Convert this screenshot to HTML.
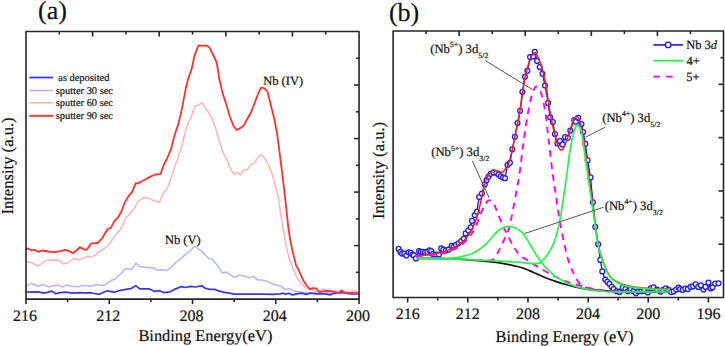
<!DOCTYPE html><html><head><meta charset="utf-8"><style>html,body{margin:0;padding:0;background:#fff;}body{width:725px;height:346px;overflow:hidden;}svg{display:block;}text{font-family:"Liberation Serif",serif;fill:#111;stroke:#111;stroke-width:0.2px;text-rendering:geometricPrecision;}</style></head><body>
<svg width="725" height="346" viewBox="0 0 725 346">
<rect width="725" height="346" fill="#fff"/>
<g fill="none" stroke-linejoin="round" stroke-linecap="round">
<polyline points="26,286.2 31.5,283.3 37.9,286.2 42.5,284.8 48.9,286.8 58.7,285.1 62.7,287.1 66.2,285.1 71.4,286.2 78.3,286.8 84.1,285.3 90,286.2 96.9,284.5 103.9,285.6 112,279.9 114.9,279.3 122.4,272.3 125.8,268.6 131.6,269.5 136,263.3 139.7,266.6 144.3,267.1 149,267.7 153,267.5 157.1,270 161.7,269.8 166.3,270.6 170,268.5 174.3,263.9 178.9,259.9 184.7,255.2 188.2,252.3 195.1,246 198.6,249.5 201.4,250.6 205.5,255.2 209,258.7 212.4,259.3 217.1,265.1 222.8,273.2 226.3,272 230.5,275 234.2,277.2 239.1,275.2 244.1,275.9 249,277.7 253.9,276.4 257.6,280.1 261.3,280.1 266.2,280.8 271.1,283.3 276,285 280.9,286.3 285.7,289.6 289,288.7 292.4,290.4 297,291.5 307.9,293.1 317.8,293.1 327.6,293.1 337.4,293.6 347.2,293.1 357.1,293.1" stroke="#b4b4ff" stroke-width="1.5"/>
<polyline points="26,292 30.9,292.2 37.9,291.8 44.2,293.2 51.7,291.1 55.8,293.7 59.8,292.6 65.6,292.2 72.6,293.2 79.5,292.6 86.4,292.9 90,292.6 94,293.5 99.2,294.3 103,292.5 107.3,290.8 114.3,292.2 120.1,290.3 124.7,289.7 131.6,288.3 135.7,285.6 139.7,288.8 149,288.8 154.7,291.4 159.4,290.6 163.4,292.6 170,291.8 173.4,289.9 180.8,286.7 185.7,287.5 190.6,286.3 194.9,287 201.8,285.8 204.7,288 209.7,289.4 214.6,289.4 219.5,291.2 224.4,292.4 229.3,293.1 234.2,294.1 244.1,294.1 253.9,294.1 263.7,294.1 273.5,294.4 280,293.8 283.4,293.2 285.7,294.3 288.5,293.2 292.4,294.9 297,293.8 301.5,293.2 306,294.3 310.5,293.2 316.2,293.8 325.2,293.8 329.8,294.9 334.3,293.2 338.8,292.6 343.3,292.6 350.1,293.8 358.3,293.8" stroke="#3636ff" stroke-width="1.7"/>
<polyline points="26,261.4 30.9,262.5 38.5,266 45.4,260.5 55.2,259.9 58.7,260.2 63.3,264 68.5,262.5 73.7,258.5 79.5,259.9 87,256.4 91,257.1 95.7,255 99,251.5 102.2,249.8 106,247 109.5,244 115.2,235.3 120.3,229.6 123.9,222.3 126.1,217.3 129,215.1 132.6,210.8 135,207.2 138,201.2 143.8,197.9 148.8,198.3 153.9,200.8 159.7,202.2 163.3,192.5 166.9,189.6 169.8,181.7 173.4,171.6 175,165.8 177.2,160.2 181.4,147.9 184.6,134.4 188.3,122.1 191.2,117 193.5,110 195.2,106.1 198.1,105.4 201.8,102.9 205.5,108 211.6,117.2 215.3,127 219,140.5 223.3,153.6 227,159 230,167.7 233.7,174 236.9,172.5 240.4,174.9 243.6,170 247.2,170 250.9,164.4 254.1,163.1 258.5,156.5 260.7,154.7 264.4,157.9 268.1,164.1 271.8,172.7 275.5,186.2 277.9,195 280.9,215 282.9,227.3 285.8,244.5 289.5,259.2 293.6,270 296.3,276.5 299.2,281.3 302.5,285.2 306,288.1 312.8,290.4 318.5,292.1 323.6,288.7 327.5,290.9 336.6,290.9 343.3,291.5 350.1,292.1 354.7,290.9 358.3,292.1" stroke="#ffb4b4" stroke-width="1.5"/>
<polyline points="26,249.1 28.1,248.4 31.6,250.5 34.3,249.8 38.5,251.9 41.9,250.5 48,251.5 55,252.2 60.4,251.1 65.4,249.8 69,251.1 73,253.3 76.4,250.5 79.9,247.1 84.7,249.8 87.4,249.1 90.9,243.6 96.4,242.9 97.5,243.3 102.2,238.2 105.5,232.5 108,228.8 110.9,227.8 114.5,220.9 118.1,217.3 121.7,210.8 123.9,205 125,201.9 128.6,196.1 132.2,191.8 135.8,183.1 138,183.4 142.3,181 145.2,179.5 150.3,176.6 155.3,174.5 160.4,174.2 164,164.3 166.2,160 167.4,157.7 171.1,149.1 174.8,134.4 178.5,123.6 182.1,107.9 185.8,88.3 188.3,78.4 191.9,68.2 194.4,55.6 196.9,49.4 198.5,45.3 202.4,45.9 205,45.4 208,46.4 209.8,48.2 213.2,55 216.5,62 218,70 219.5,80 222.7,93.4 226.3,104.5 230,117 233.7,126.3 236.9,130 241.1,127.6 244,125.1 247.2,119 250.9,112.8 254.6,103 258.3,93.2 261.2,87.5 264.4,88.3 267.6,91.9 270.6,104.2 274.3,119 276.7,131.3 278.2,142 280.4,159.1 282.9,178.8 284.8,195 287,215 288.3,227.3 290.2,239.6 292.7,251.9 296.1,265.4 298.7,270 301.2,276 303.8,281.3 307,286 310,289.2 312.8,288.1 316.2,288.3 319.6,292.1 325.2,290.9 333.2,291.5 337.7,293.2 341.7,290.4 344.5,292.6 350.1,293.2 358.3,293.2" stroke="#ff3030" stroke-width="1.8"/>
</g>
<g stroke="#262626" stroke-width="1.6" fill="none" stroke-linejoin="round">
<rect x="26" y="31.55" width="333.05" height="267.55"/>
<line x1="26" y1="299.1" x2="26" y2="304.1"/>
<line x1="109.26" y1="299.1" x2="109.26" y2="304.1"/>
<line x1="192.53" y1="299.1" x2="192.53" y2="304.1"/>
<line x1="275.79" y1="299.1" x2="275.79" y2="304.1"/>
<line x1="359.05" y1="299.1" x2="359.05" y2="304.1"/>
<line x1="67.63" y1="299.1" x2="67.63" y2="302.1"/>
<line x1="150.89" y1="299.1" x2="150.89" y2="302.1"/>
<line x1="234.16" y1="299.1" x2="234.16" y2="302.1"/>
<line x1="317.42" y1="299.1" x2="317.42" y2="302.1"/>
<line x1="59.3" y1="31.55" x2="59.3" y2="34.55"/>
<line x1="92.61" y1="31.55" x2="92.61" y2="36.55"/>
<line x1="125.91" y1="31.55" x2="125.91" y2="34.55"/>
<line x1="159.22" y1="31.55" x2="159.22" y2="36.55"/>
<line x1="192.53" y1="31.55" x2="192.53" y2="34.55"/>
<line x1="225.83" y1="31.55" x2="225.83" y2="36.55"/>
<line x1="259.13" y1="31.55" x2="259.13" y2="34.55"/>
<line x1="292.44" y1="31.55" x2="292.44" y2="36.55"/>
<line x1="325.75" y1="31.55" x2="325.75" y2="34.55"/>
<line x1="359.05" y1="58.31" x2="356.05" y2="58.31"/>
<line x1="359.05" y1="85.06" x2="354.05" y2="85.06"/>
<line x1="359.05" y1="111.82" x2="356.05" y2="111.82"/>
<line x1="359.05" y1="138.57" x2="354.05" y2="138.57"/>
<line x1="359.05" y1="165.33" x2="356.05" y2="165.33"/>
<line x1="359.05" y1="192.08" x2="354.05" y2="192.08"/>
<line x1="359.05" y1="218.84" x2="356.05" y2="218.84"/>
<line x1="359.05" y1="245.59" x2="354.05" y2="245.59"/>
<line x1="359.05" y1="272.35" x2="356.05" y2="272.35"/>
</g>
<line x1="29.3" y1="77.5" x2="53.2" y2="77.5" stroke="#3636ff" stroke-width="1.8"/>
<text x="58.3" y="80.9" font-size="10.4">as deposited</text>
<line x1="29.3" y1="90.5" x2="53.2" y2="90.5" stroke="#b4b4ff" stroke-width="1.6"/>
<text x="55.8" y="93.9" font-size="10.4">sputter 30 sec</text>
<line x1="29.3" y1="102.8" x2="53.2" y2="102.8" stroke="#ffb4b4" stroke-width="1.6"/>
<text x="55.8" y="106.2" font-size="10.4">sputter 60 sec</text>
<line x1="29.3" y1="115.8" x2="53.2" y2="115.8" stroke="#ff3030" stroke-width="1.9"/>
<text x="55.8" y="119.2" font-size="10.4">sputter 90 sec</text>
<text x="38" y="18.8" font-size="26">(a)</text>
<text x="263.2" y="84.6" font-size="12.5">Nb (IV)</text>
<text x="164.9" y="243.7" font-size="12.5">Nb (V)</text>
<text x="25" y="320.7" font-size="16" text-anchor="middle">216</text>
<text x="108.26" y="320.7" font-size="16" text-anchor="middle">212</text>
<text x="191.53" y="320.7" font-size="16" text-anchor="middle">208</text>
<text x="274.79" y="320.7" font-size="16" text-anchor="middle">204</text>
<text x="358.05" y="320.7" font-size="16" text-anchor="middle">200</text>
<text x="138.4" y="341" font-size="16.4">Binding Energy(eV)</text>
<text transform="translate(13.2,166) rotate(-90)" font-size="16.6" text-anchor="middle">Intensity (a.u.)</text>
<g fill="none" stroke-linejoin="round" stroke-linecap="butt">
<polyline points="398.6,248.9 400.4,251.9 402.1,253.6 404.3,253.6 406.4,255.4 408.6,252.3 410.8,252.8 412.5,254.5 413.8,255.4 416,258.4 419,251 420.8,251.9 422.9,251.9 425.1,252.3 427.3,251.9 429.4,250.2 431.2,251 432.9,254.1 435.5,254.5 439,254.5 441.2,248.4 443.4,249.5 446,250.3 448.6,249.6 451.6,245.9 453.6,246.8 456,244.8 458.6,243.2 461.2,241 463.8,238.7 465.6,233.4 468.3,230.3 470.7,227.3 472,220.8 474.7,215.1 476.8,211.7 479.2,197 481.9,193.6 484.8,184.4 486.5,180.3 488.4,176.7 490.6,173.8 493.5,172.4 496.4,173.1 498.5,174.6 500.7,176.3 502.9,177.5 505,178.2 507.5,165 509.9,162.8 512.3,149.3 514.9,136.8 517.5,123 520.1,110.8 522.4,91.7 524.9,76.7 527.4,70.8 530.1,57 533.1,56.5 534.8,51.9 537.1,61 539.7,67 542.5,73.7 545,85.5 548.1,102.9 550.1,117.2 552.9,122 554.9,134 557.4,143.5 560,141 562.5,144.5 565.1,137 567.8,137.8 570.3,130.5 574.2,120 575.8,121.7 578.2,117.7 581.5,124 583.1,132 585.3,143.8 587.6,160.2 590.5,177.4 592.9,202.2 595.3,226.9 598.2,244.2 600.3,259.9 602.3,271.4 605.2,279.6 607.3,281.8 609.5,283.9 611.7,286.8 613.8,289 616.7,291.2 619.6,291.9 622.5,287.8 625.4,289 627.8,291.2 630.4,289.7 633.3,291.2 635.9,293.3 638.4,291.2 641.3,291.2 644.2,290.7 647.8,292.4 650.8,288.4 653.5,287.3 657,289.6 660.4,291.8 663.1,289.8 665.8,288.2 668.5,289.7 671,292.1 673.6,291.4 676.2,289.5 678.5,287.5 680.1,289.1 682.7,289.9 685.3,288.5 687.9,289.1 690.5,286.9 693.1,286.2 695.7,284.3 698.3,286.9 700.9,285.2 703.5,289.5 705.5,286.9 708.5,282.6 710.7,288.5 712.6,287.3 715.2,283.6 718.5,283.3" stroke="#1010ff" stroke-width="1.3"/>
</g>
<g fill="#fff" stroke="#1a1aff" stroke-width="1.25">
<circle cx="398.6" cy="248.9" r="2.45"/>
<circle cx="400.4" cy="251.9" r="2.45"/>
<circle cx="402.1" cy="253.6" r="2.45"/>
<circle cx="404.3" cy="253.6" r="2.45"/>
<circle cx="406.4" cy="255.4" r="2.45"/>
<circle cx="408.6" cy="252.3" r="2.45"/>
<circle cx="410.8" cy="252.8" r="2.45"/>
<circle cx="412.5" cy="254.5" r="2.45"/>
<circle cx="413.8" cy="255.4" r="2.45"/>
<circle cx="416" cy="258.4" r="2.45"/>
<circle cx="419" cy="251" r="2.45"/>
<circle cx="420.8" cy="251.9" r="2.45"/>
<circle cx="422.9" cy="251.9" r="2.45"/>
<circle cx="425.1" cy="252.3" r="2.45"/>
<circle cx="427.3" cy="251.9" r="2.45"/>
<circle cx="429.4" cy="250.2" r="2.45"/>
<circle cx="431.2" cy="251" r="2.45"/>
<circle cx="432.9" cy="254.1" r="2.45"/>
<circle cx="435.5" cy="254.5" r="2.45"/>
<circle cx="439" cy="254.5" r="2.45"/>
<circle cx="441.2" cy="248.4" r="2.45"/>
<circle cx="443.4" cy="249.5" r="2.45"/>
<circle cx="446" cy="250.3" r="2.45"/>
<circle cx="448.6" cy="249.6" r="2.45"/>
<circle cx="451.6" cy="245.9" r="2.45"/>
<circle cx="453.6" cy="246.8" r="2.45"/>
<circle cx="456" cy="244.8" r="2.45"/>
<circle cx="458.6" cy="243.2" r="2.45"/>
<circle cx="461.2" cy="241" r="2.45"/>
<circle cx="463.8" cy="238.7" r="2.45"/>
<circle cx="465.6" cy="233.4" r="2.45"/>
<circle cx="468.3" cy="230.3" r="2.45"/>
<circle cx="470.7" cy="227.3" r="2.45"/>
<circle cx="472" cy="220.8" r="2.45"/>
<circle cx="474.7" cy="215.1" r="2.45"/>
<circle cx="476.8" cy="211.7" r="2.45"/>
<circle cx="479.2" cy="197" r="2.45"/>
<circle cx="481.9" cy="193.6" r="2.45"/>
<circle cx="484.8" cy="184.4" r="2.45"/>
<circle cx="486.5" cy="180.3" r="2.45"/>
<circle cx="488.4" cy="176.7" r="2.45"/>
<circle cx="490.6" cy="173.8" r="2.45"/>
<circle cx="493.5" cy="172.4" r="2.45"/>
<circle cx="496.4" cy="173.1" r="2.45"/>
<circle cx="498.5" cy="174.6" r="2.45"/>
<circle cx="500.7" cy="176.3" r="2.45"/>
<circle cx="502.9" cy="177.5" r="2.45"/>
<circle cx="505" cy="178.2" r="2.45"/>
<circle cx="507.5" cy="165" r="2.45"/>
<circle cx="509.9" cy="162.8" r="2.45"/>
<circle cx="512.3" cy="149.3" r="2.45"/>
<circle cx="514.9" cy="136.8" r="2.45"/>
<circle cx="517.5" cy="123" r="2.45"/>
<circle cx="520.1" cy="110.8" r="2.45"/>
<circle cx="522.4" cy="91.7" r="2.45"/>
<circle cx="524.9" cy="76.7" r="2.45"/>
<circle cx="527.4" cy="70.8" r="2.45"/>
<circle cx="530.1" cy="57" r="2.45"/>
<circle cx="533.1" cy="56.5" r="2.45"/>
<circle cx="534.8" cy="51.9" r="2.45"/>
<circle cx="537.1" cy="61" r="2.45"/>
<circle cx="539.7" cy="67" r="2.45"/>
<circle cx="542.5" cy="73.7" r="2.45"/>
<circle cx="545" cy="85.5" r="2.45"/>
<circle cx="548.1" cy="102.9" r="2.45"/>
<circle cx="550.1" cy="117.2" r="2.45"/>
<circle cx="552.9" cy="122" r="2.45"/>
<circle cx="554.9" cy="134" r="2.45"/>
<circle cx="557.4" cy="143.5" r="2.45"/>
<circle cx="560" cy="141" r="2.45"/>
<circle cx="562.5" cy="144.5" r="2.45"/>
<circle cx="565.1" cy="137" r="2.45"/>
<circle cx="567.8" cy="137.8" r="2.45"/>
<circle cx="570.3" cy="130.5" r="2.45"/>
<circle cx="574.2" cy="120" r="2.45"/>
<circle cx="575.8" cy="121.7" r="2.45"/>
<circle cx="578.2" cy="117.7" r="2.45"/>
<circle cx="581.5" cy="124" r="2.45"/>
<circle cx="583.1" cy="132" r="2.45"/>
<circle cx="585.3" cy="143.8" r="2.45"/>
<circle cx="587.6" cy="160.2" r="2.45"/>
<circle cx="590.5" cy="177.4" r="2.45"/>
<circle cx="592.9" cy="202.2" r="2.45"/>
<circle cx="595.3" cy="226.9" r="2.45"/>
<circle cx="598.2" cy="244.2" r="2.45"/>
<circle cx="600.3" cy="259.9" r="2.45"/>
<circle cx="602.3" cy="271.4" r="2.45"/>
<circle cx="605.2" cy="279.6" r="2.45"/>
<circle cx="607.3" cy="281.8" r="2.45"/>
<circle cx="609.5" cy="283.9" r="2.45"/>
<circle cx="611.7" cy="286.8" r="2.45"/>
<circle cx="613.8" cy="289" r="2.45"/>
<circle cx="616.7" cy="291.2" r="2.45"/>
<circle cx="619.6" cy="291.9" r="2.45"/>
<circle cx="622.5" cy="287.8" r="2.45"/>
<circle cx="625.4" cy="289" r="2.45"/>
<circle cx="627.8" cy="291.2" r="2.45"/>
<circle cx="630.4" cy="289.7" r="2.45"/>
<circle cx="633.3" cy="291.2" r="2.45"/>
<circle cx="635.9" cy="293.3" r="2.45"/>
<circle cx="638.4" cy="291.2" r="2.45"/>
<circle cx="641.3" cy="291.2" r="2.45"/>
<circle cx="644.2" cy="290.7" r="2.45"/>
<circle cx="647.8" cy="292.4" r="2.45"/>
<circle cx="650.8" cy="288.4" r="2.45"/>
<circle cx="653.5" cy="287.3" r="2.45"/>
<circle cx="657" cy="289.6" r="2.45"/>
<circle cx="660.4" cy="291.8" r="2.45"/>
<circle cx="663.1" cy="289.8" r="2.45"/>
<circle cx="665.8" cy="288.2" r="2.45"/>
<circle cx="668.5" cy="289.7" r="2.45"/>
<circle cx="671" cy="292.1" r="2.45"/>
<circle cx="673.6" cy="291.4" r="2.45"/>
<circle cx="676.2" cy="289.5" r="2.45"/>
<circle cx="678.5" cy="287.5" r="2.45"/>
<circle cx="680.1" cy="289.1" r="2.45"/>
<circle cx="682.7" cy="289.9" r="2.45"/>
<circle cx="685.3" cy="288.5" r="2.45"/>
<circle cx="687.9" cy="289.1" r="2.45"/>
<circle cx="690.5" cy="286.9" r="2.45"/>
<circle cx="693.1" cy="286.2" r="2.45"/>
<circle cx="695.7" cy="284.3" r="2.45"/>
<circle cx="698.3" cy="286.9" r="2.45"/>
<circle cx="700.9" cy="285.2" r="2.45"/>
<circle cx="703.5" cy="289.5" r="2.45"/>
<circle cx="705.5" cy="286.9" r="2.45"/>
<circle cx="708.5" cy="282.6" r="2.45"/>
<circle cx="710.7" cy="288.5" r="2.45"/>
<circle cx="712.6" cy="287.3" r="2.45"/>
<circle cx="715.2" cy="283.6" r="2.45"/>
<circle cx="718.5" cy="283.3" r="2.45"/>
</g>
<g fill="none" stroke-linejoin="round" stroke-linecap="butt">
<path d="M416.3,255.8 C417.75,255.67 422.13,255.32 425,255 C427.87,254.68 430.83,254.37 433.5,253.9 C436.17,253.43 438.4,252.92 441,252.2 C443.6,251.48 446.32,250.73 449.1,249.6 C451.88,248.47 455.1,247.03 457.7,245.4 C460.3,243.77 462.9,241.53 464.7,239.8 C466.5,238.07 467.35,236.72 468.5,235 C469.65,233.28 470.6,231.42 471.6,229.5 C472.6,227.58 473.63,225.5 474.5,223.5 C475.37,221.5 475.83,220.75 476.8,217.5 C477.77,214.25 479.2,208.67 480.3,204 C481.4,199.33 482.53,193.17 483.4,189.5 C484.27,185.83 484.78,184.13 485.5,182 C486.22,179.87 486.87,178.28 487.7,176.7 C488.53,175.12 489.53,173.55 490.5,172.5 C491.47,171.45 492.28,170.65 493.5,170.4 C494.72,170.15 496.37,170.67 497.8,171 C499.23,171.33 500.77,172.83 502.1,172.4 C503.43,171.97 504.58,170.3 505.8,168.4 C507.02,166.5 508.32,164.15 509.4,161 C510.48,157.85 511.2,154.5 512.3,149.5 C513.4,144.5 514.88,136.42 516,131 C517.12,125.58 518.08,122 519,117 C519.92,112 520.52,107.5 521.5,101 C522.48,94.5 523.98,83.33 524.9,78 C525.82,72.67 526.27,71.58 527,69 C527.73,66.42 528.47,64.75 529.3,62.5 C530.13,60.25 531.08,57.17 532,55.5 C532.92,53.83 533.88,52.42 534.8,52.5 C535.72,52.58 536.55,54.18 537.5,56 C538.45,57.82 539.58,60.73 540.5,63.4 C541.42,66.07 542.13,68.57 543,72 C543.87,75.43 544.82,79.17 545.7,84 C546.58,88.83 547.42,95.42 548.3,101 C549.18,106.58 550.07,112.5 551,117.5 C551.93,122.5 552.98,127 553.9,131 C554.82,135 555.73,138.83 556.5,141.5 C557.27,144.17 557.77,145.58 558.5,147 C559.23,148.42 560.07,149.82 560.9,150 C561.73,150.18 562.35,150.27 563.5,148.1 C564.65,145.93 566.37,141.02 567.8,137 C569.23,132.98 570.92,127.2 572.1,124 C573.28,120.8 574.13,119.03 574.9,117.8 C575.67,116.57 576.08,116.52 576.7,116.6 C577.32,116.68 577.93,117.02 578.6,118.3 C579.27,119.58 579.82,120.68 580.7,124.3 C581.58,127.92 582.93,134.13 583.9,140 C584.87,145.87 585.58,152.83 586.5,159.5 C587.42,166.17 588.5,173.58 589.4,180 C590.3,186.42 591.2,193 591.9,198 C592.6,203 592.93,204.75 593.6,210 C594.27,215.25 595.1,223.58 595.9,229.5 C596.7,235.42 597.35,240.62 598.4,245.5 C599.45,250.38 600.72,254.42 602.2,258.8 C603.68,263.18 605.48,268.37 607.3,271.8 C609.12,275.23 610.68,277.37 613.1,279.4 C615.52,281.43 618.43,282.77 621.8,284 C625.17,285.23 628.97,286.08 633.3,286.8 C637.63,287.52 641.68,287.88 647.8,288.3 C653.92,288.72 666.3,289.13 670,289.3" stroke="#ff1a1a" stroke-width="1.5"/>
<path d="M416.3,258.3 C420.25,258.33 433.77,258.4 440,258.5 C446.23,258.6 450.08,258.77 453.7,258.9 C457.32,259.03 458.32,259.07 461.7,259.3 C465.08,259.53 470.38,260 474,260.3 C477.62,260.6 480.03,260.8 483.4,261.1 C486.77,261.4 490.6,261.65 494.2,262.1 C497.8,262.55 500.95,263.02 505,263.8 C509.05,264.58 515,265.9 518.5,266.8 C522,267.7 523.58,268.3 526,269.2 C528.42,270.1 529.95,270.87 533,272.2 C536.05,273.53 540.4,275.63 544.3,277.2 C548.2,278.77 552.35,280.25 556.4,281.6 C560.45,282.95 564.55,284.2 568.6,285.3 C572.65,286.4 576.8,287.43 580.7,288.2 C584.6,288.97 587.95,289.45 592,289.9 C596.05,290.35 598.67,290.62 605,290.9 C611.33,291.18 619.17,291.42 630,291.6 C640.83,291.78 663.33,291.93 670,292" stroke="#111" stroke-width="1.7"/>
<path d="M416.3,256.1 C418.58,255.98 425.72,255.82 430,255.4 C434.28,254.98 438.33,254.47 442,253.6 C445.67,252.73 449.33,251.27 452,250.2 C454.67,249.13 456.33,248.13 458,247.2 C459.67,246.27 460.67,245.7 462,244.6 C463.33,243.5 464.75,241.95 466,240.6 C467.25,239.25 468.42,237.85 469.5,236.5 C470.58,235.15 471.25,234.67 472.5,232.5 C473.75,230.33 475.58,226.75 477,223.5 C478.42,220.25 479.75,216 481,213 C482.25,210 483.33,207.53 484.5,205.5 C485.67,203.47 486.92,201.62 488,200.8 C489.08,199.98 490,200.03 491,200.6 C492,201.17 493,202.38 494,204.2 C495,206.02 495.92,208.83 497,211.5 C498.08,214.17 499.33,217.42 500.5,220.2 C501.67,222.98 502.88,225.83 504,228.2 C505.12,230.57 505.77,231.6 507.2,234.4 C508.63,237.2 511.05,242.23 512.6,245 C514.15,247.77 515.15,249.2 516.5,251 C517.85,252.8 519,254.33 520.7,255.8 C522.4,257.27 524.82,258.57 526.7,259.8 C528.58,261.03 529.78,261.8 532,263.2 C534.22,264.6 536.6,266.2 540,268.2 C543.4,270.2 548.07,273.02 552.4,275.2 C556.73,277.38 561.28,279.52 566,281.3 C570.72,283.08 576.37,284.67 580.7,285.9 C585.03,287.13 587.95,287.92 592,288.7 C596.05,289.48 598.67,290.12 605,290.6 C611.33,291.08 619.17,291.37 630,291.6 C640.83,291.83 663.33,291.93 670,292" stroke="#ff00ff" stroke-width="1.9" stroke-dasharray="6.5,5.5"/>
<path d="M416.3,258.2 C420.25,258.25 432.43,258.33 440,258.5 C447.57,258.67 455.7,258.93 461.7,259.2 C467.7,259.47 472.28,259.87 476,260.1 C479.72,260.33 481.83,260.52 484,260.6 C486.17,260.68 487.42,260.83 489,260.6 C490.58,260.37 492.03,260.53 493.5,259.2 C494.97,257.87 496.37,255.17 497.8,252.6 C499.23,250.03 500.53,246.98 502.1,243.8 C503.67,240.62 505.8,237.13 507.2,233.5 C508.6,229.87 509.45,226.42 510.5,222 C511.55,217.58 512.47,212.33 513.5,207 C514.53,201.67 515.87,194.5 516.7,190 C517.53,185.5 517.9,183.67 518.5,180 C519.1,176.33 519.63,173 520.3,168 C520.97,163 521.73,155.97 522.5,150 C523.27,144.03 524,138.28 524.9,132.2 C525.8,126.12 526.88,119.12 527.9,113.5 C528.92,107.88 530.05,102.42 531,98.5 C531.95,94.58 532.68,92.02 533.6,90 C534.52,87.98 535.52,86.48 536.5,86.4 C537.48,86.32 538.58,87.9 539.5,89.5 C540.42,91.1 541.03,92.3 542,96 C542.97,99.7 544.38,106.03 545.3,111.7 C546.22,117.37 546.8,124.12 547.5,130 C548.2,135.88 548.72,140.33 549.5,147 C550.28,153.67 551.27,162.75 552.2,170 C553.13,177.25 554.13,183.83 555.1,190.5 C556.07,197.17 557.02,203.75 558,210 C558.98,216.25 559.9,222.17 561,228 C562.1,233.83 563.43,239.78 564.6,245 C565.77,250.22 566.73,255.08 568,259.3 C569.27,263.52 570.97,267.35 572.2,270.3 C573.43,273.25 573.98,274.58 575.4,277 C576.82,279.42 578.27,282.85 580.7,284.8 C583.13,286.75 586.05,287.65 590,288.7 C593.95,289.75 597.73,290.58 604.4,291.1 C611.07,291.62 619.07,291.65 630,291.8 C640.93,291.95 663.33,291.97 670,292" stroke="#ff00ff" stroke-width="1.9" stroke-dasharray="6.5,5.5"/>
<path d="M416.3,258.3 C420.25,258.32 434.12,258.43 440,258.4 C445.88,258.37 448.6,258.28 451.6,258.1 C454.6,257.92 455.83,257.67 458,257.3 C460.17,256.93 462.52,256.42 464.6,255.9 C466.68,255.38 468.58,254.93 470.5,254.2 C472.42,253.47 474.18,252.63 476.1,251.5 C478.02,250.37 480.07,248.93 482,247.4 C483.93,245.87 485.95,244.07 487.7,242.3 C489.45,240.53 490.82,238.68 492.5,236.8 C494.18,234.92 496.05,232.5 497.8,231 C499.55,229.5 501.05,228.57 503,227.8 C504.95,227.03 507.33,226.33 509.5,226.4 C511.67,226.47 514.25,227.47 516,228.2 C517.75,228.93 518.7,229.8 520,230.8 C521.3,231.8 522.2,232.03 523.8,234.2 C525.4,236.37 527.67,240.55 529.6,243.8 C531.53,247.05 533.67,250.97 535.4,253.7 C537.13,256.43 538.57,258.22 540,260.2 C541.43,262.18 542.62,263.93 544,265.6 C545.38,267.27 546.63,268.57 548.3,270.2 C549.97,271.83 551.97,273.83 554,275.4 C556.03,276.97 558.17,278.25 560.5,279.6 C562.83,280.95 565.3,282.33 568,283.5 C570.7,284.67 573.03,285.53 576.7,286.6 C580.37,287.67 585.38,289.08 590,289.9 C594.62,290.72 597.73,291.17 604.4,291.5 C611.07,291.83 619.07,291.82 630,291.9 C640.93,291.98 663.33,291.98 670,292" stroke="#26f64c" stroke-width="1.7"/>
<path d="M416.3,258.3 C420.25,258.35 428.82,258.27 440,258.6 C451.18,258.93 471.35,259.77 483.4,260.3 C495.45,260.83 505.08,261.33 512.3,261.8 C519.52,262.27 523.08,262.8 526.7,263.1 C530.32,263.4 532.12,263.57 534,263.6 C535.88,263.63 536.83,263.57 538,263.3 C539.17,263.03 539.62,263.17 541,262 C542.38,260.83 544.4,258.93 546.3,256.3 C548.2,253.67 550.55,250.33 552.4,246.2 C554.25,242.07 556.05,236.37 557.4,231.5 C558.75,226.63 559.37,223.42 560.5,217 C561.63,210.58 563.13,200.17 564.2,193 C565.27,185.83 566.02,180.5 566.9,174 C567.78,167.5 568.6,159.92 569.5,154 C570.4,148.08 571.38,142.75 572.3,138.5 C573.22,134.25 574.13,130.78 575,128.5 C575.87,126.22 576.72,125.02 577.5,124.8 C578.28,124.58 578.97,125.67 579.7,127.2 C580.43,128.73 581.18,130.37 581.9,134 C582.62,137.63 583.25,143.83 584,149 C584.75,154.17 585.58,159.33 586.4,165 C587.22,170.67 588.07,177.17 588.9,183 C589.73,188.83 590.65,195 591.4,200 C592.15,205 592.65,207.83 593.4,213 C594.15,218.17 595.07,225.5 595.9,231 C596.73,236.5 597.35,241.25 598.4,246 C599.45,250.75 600.72,255.07 602.2,259.5 C603.68,263.93 605.48,269.18 607.3,272.6 C609.12,276.02 610.68,278 613.1,280 C615.52,282 618.43,283.38 621.8,284.6 C625.17,285.82 628.97,286.6 633.3,287.3 C637.63,288 641.68,288.4 647.8,288.8 C653.92,289.2 666.3,289.55 670,289.7" stroke="#26f64c" stroke-width="1.7"/>
</g>
<g stroke="#555" stroke-width="1">
<line x1="485.3" y1="60.6" x2="532.7" y2="89.7"/>
<line x1="472.3" y1="160.8" x2="489.1" y2="197.7"/>
<line x1="605.2" y1="127.2" x2="585.3" y2="137.3"/>
<line x1="603.4" y1="207.3" x2="524.8" y2="233.5"/>
</g>
<g stroke="#262626" stroke-width="1.6" fill="none" stroke-linejoin="round">
<rect x="393.1" y="31.05" width="330.4" height="266.45"/>
<line x1="407.65" y1="297.5" x2="407.65" y2="302.5"/>
<line x1="467.8" y1="297.5" x2="467.8" y2="302.5"/>
<line x1="527.95" y1="297.5" x2="527.95" y2="302.5"/>
<line x1="588.1" y1="297.5" x2="588.1" y2="302.5"/>
<line x1="648.25" y1="297.5" x2="648.25" y2="302.5"/>
<line x1="708.4" y1="297.5" x2="708.4" y2="302.5"/>
<line x1="437.72" y1="297.5" x2="437.72" y2="300.5"/>
<line x1="497.88" y1="297.5" x2="497.88" y2="300.5"/>
<line x1="558.02" y1="297.5" x2="558.02" y2="300.5"/>
<line x1="618.17" y1="297.5" x2="618.17" y2="300.5"/>
<line x1="678.33" y1="297.5" x2="678.33" y2="300.5"/>
<line x1="426.14" y1="31.05" x2="426.14" y2="34.05"/>
<line x1="459.18" y1="31.05" x2="459.18" y2="36.05"/>
<line x1="492.22" y1="31.05" x2="492.22" y2="34.05"/>
<line x1="525.26" y1="31.05" x2="525.26" y2="36.05"/>
<line x1="558.3" y1="31.05" x2="558.3" y2="34.05"/>
<line x1="591.34" y1="31.05" x2="591.34" y2="36.05"/>
<line x1="624.38" y1="31.05" x2="624.38" y2="34.05"/>
<line x1="657.42" y1="31.05" x2="657.42" y2="36.05"/>
<line x1="690.46" y1="31.05" x2="690.46" y2="34.05"/>
<line x1="723.5" y1="57.7" x2="720.5" y2="57.7"/>
<line x1="723.5" y1="84.34" x2="718.5" y2="84.34"/>
<line x1="723.5" y1="110.98" x2="720.5" y2="110.98"/>
<line x1="723.5" y1="137.63" x2="718.5" y2="137.63"/>
<line x1="723.5" y1="164.28" x2="720.5" y2="164.28"/>
<line x1="723.5" y1="190.92" x2="718.5" y2="190.92"/>
<line x1="723.5" y1="217.56" x2="720.5" y2="217.56"/>
<line x1="723.5" y1="244.21" x2="718.5" y2="244.21"/>
<line x1="723.5" y1="270.86" x2="720.5" y2="270.86"/>
</g>
<line x1="653.4" y1="44.9" x2="683.1" y2="44.9" stroke="#1a1aff" stroke-width="1.6"/>
<circle cx="668.2" cy="44.9" r="2.75" fill="#fff" stroke="#1a1aff" stroke-width="1.3"/>
<line x1="653.4" y1="60.7" x2="683.1" y2="60.7" stroke="#26f64c" stroke-width="1.8"/>
<line x1="653.4" y1="76.6" x2="672.9" y2="76.6" stroke="#ff00ff" stroke-width="1.9" stroke-dasharray="6.6,6.1"/>
<text x="686.2" y="49.4" font-size="12.5">Nb 3<tspan font-style="italic">d</tspan></text>
<text x="686.4" y="65" font-size="12.5">4+</text>
<text x="686.2" y="81.1" font-size="12.5">5+</text>
<text x="430.2" y="52.9" font-size="12.7">(Nb<tspan font-size="7.8" dy="-5.5">5+</tspan><tspan dy="5.5">) 3d</tspan><tspan font-size="7.8" dy="5">5/2</tspan></text>
<text x="431.2" y="156.2" font-size="12.7">(Nb<tspan font-size="7.8" dy="-5.5">5+</tspan><tspan dy="5.5">) 3d</tspan><tspan font-size="7.8" dy="5">3/2</tspan></text>
<text x="602.2" y="121.6" font-size="12.7">(Nb<tspan font-size="7.8" dy="-5.5">4+</tspan><tspan dy="5.5">) 3d</tspan><tspan font-size="7.8" dy="5">5/2</tspan></text>
<text x="604.7" y="209.7" font-size="12.7">(Nb<tspan font-size="7.8" dy="-5.5">4+</tspan><tspan dy="5.5">) 3d</tspan><tspan font-size="7.8" dy="5">3/2</tspan></text>
<text x="388.9" y="20.6" font-size="26">(b)</text>
<text x="407.65" y="319.1" font-size="16" text-anchor="middle">216</text>
<text x="467.8" y="319.1" font-size="16" text-anchor="middle">212</text>
<text x="527.95" y="319.1" font-size="16" text-anchor="middle">208</text>
<text x="588.1" y="319.1" font-size="16" text-anchor="middle">204</text>
<text x="648.25" y="319.1" font-size="16" text-anchor="middle">200</text>
<text x="708.4" y="319.1" font-size="16" text-anchor="middle">196</text>
<text x="495.5" y="341.8" font-size="16.4">Binding Energy (eV)</text>
<text transform="translate(384.1,170.5) rotate(-90)" font-size="16.6" text-anchor="middle">Intensity (a.u.)</text>
</svg></body></html>
